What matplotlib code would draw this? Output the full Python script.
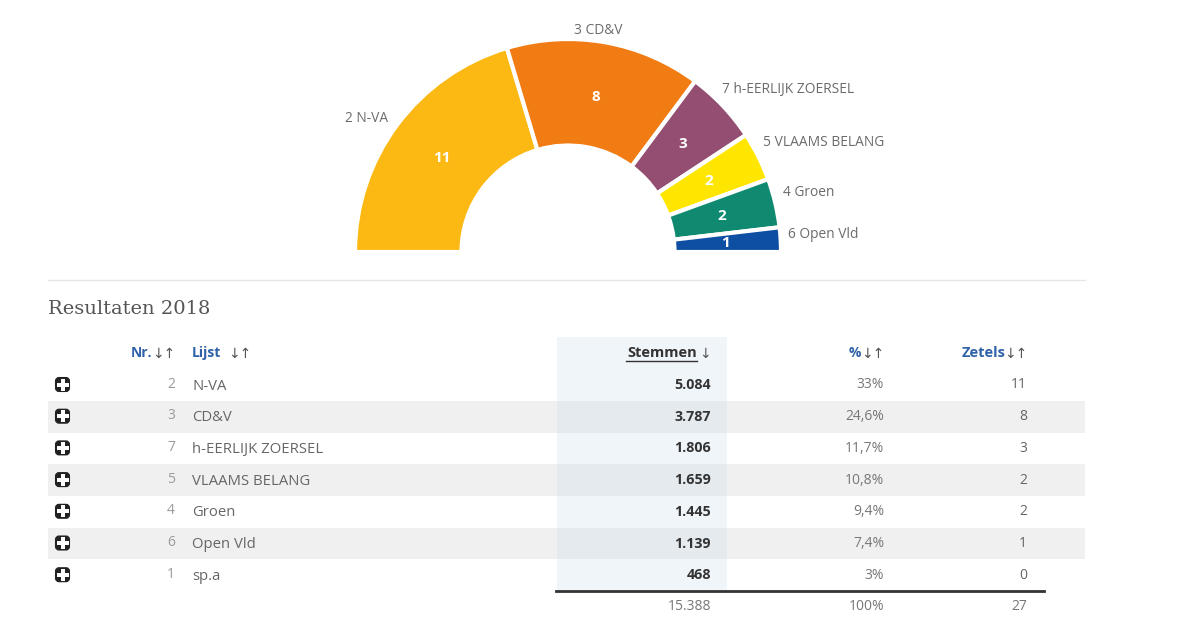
import matplotlib
matplotlib.use('Agg')
import matplotlib.pyplot as plt
from matplotlib.patches import FancyBboxPatch, Rectangle

plt.rcParams['font.family'] = ['Open Sans', 'DejaVu Sans']

# data
nrs = ['2', '3', '7', '5', '4', '6', '1']
lists = ['N-VA', 'CD&V', 'h-EERLIJK ZOERSEL', 'VLAAMS BELANG', 'Groen', 'Open Vld', 'sp.a']
votes = ['5.084', '3.787', '1.806', '1.659', '1.445', '1.139', '468']
percents = ['33%', '24,6%', '11,7%', '10,8%', '9,4%', '7,4%', '3%']
seats = [11, 8, 3, 2, 2, 1, 0]
totals = ['15.388', '100%', '27']
colors = ['#fdb913', '#f27c14', '#934e72', '#ffe600', '#0f8a70', '#0f4fa3']

W, H = 1200, 630
fig = plt.figure(figsize=(12, 6.3), dpi=100, facecolor='white')

# page layer in pixel coordinates
ax = fig.add_axes([0, 0, 1, 1])
ax.set_xlim(0, W)
ax.set_ylim(H, 0)
ax.axis('off')

# half donut: the invisible last slice takes the bottom half
cx, cy, r = 568, 252, 213
size = r * 2.5
pie_ax = fig.add_axes([(cx - size / 2) / W, (H - cy - size / 2) / H, size / W, size / H])
seated = [s for s in seats if s > 0]
wedges, texts = pie_ax.pie(
    seated + [sum(seated)],
    labels=[str(s) for s in seated] + [''],
    colors=colors + ['none'],
    startangle=180,
    counterclock=False,
    labeldistance=0.74,
    wedgeprops={'width': 0.5, 'edgecolor': 'white', 'linewidth': 3},
)
wedges[-1].set_edgecolor('none')
for t in texts:
    t.set_ha('center')
    t.set_va('center')
    t.set_color('white')
    t.set_fontsize(11)
    t.set_fontweight('bold')

# slice captions
label_pos = [(388, 118, 'right'), (598, 30, 'center'), (722, 90, 'left'),
             (763, 143, 'left'), (783, 192, 'left'), (788, 234, 'left')]
for (x, y, ha), nr, name in zip(label_pos, nrs, lists):
    ax.text(x, y, nr + ' ' + name, ha=ha, va='center', fontsize=9.9, color='#6b6b6b')

ax.plot([48, 1085], [279.5, 279.5], color='#e6e6e6', lw=1)
ax.text(48, 309, 'Resultaten 2018', ha='left', va='center', fontsize=14,
        family='DejaVu Serif', color='#555555')

# table
row_h = 31.7
first_y = 385
ax.add_patch(Rectangle((557, 337), 170, 253, facecolor='#f0f5fa', edgecolor='none', zorder=1))
for i in range(len(nrs)):
    y = first_y + i * row_h
    if i % 2 == 1:
        ax.add_patch(Rectangle((48, y - row_h / 2), 1037, row_h, facecolor='#f0f0f0',
                               edgecolor='none', zorder=1))
        ax.add_patch(Rectangle((557, y - row_h / 2), 170, row_h, facecolor='#e5eaef',
                               edgecolor='none', zorder=1.5))
    ax.add_patch(FancyBboxPatch((56, y - 7), 13, 13, boxstyle='round,pad=0,rounding_size=3',
                                facecolor='#222222', edgecolor='#222222', lw=1.5, zorder=2))
    ax.plot([62.5], [y - 0.5], marker='P', color='white', ms=8, mew=0, zorder=3)
    ax.text(175, y - 1, nrs[i], ha='right', va='center', fontsize=10, color='#9a9a9a', zorder=3)
    ax.text(192, y + 1, lists[i], ha='left', va='center', fontsize=10.7, color='#666666', zorder=3)
    ax.text(711, y, votes[i], ha='right', va='center', fontsize=10.3, fontweight='bold',
            color='#333333', zorder=3)
    ax.text(884, y, percents[i], ha='right', va='center', fontsize=10, color='#777777', zorder=3)
    ax.text(1027, y, str(seats[i]), ha='right', va='center', fontsize=10, color='#666666', zorder=3)

# header
blue = '#2f62a8'
ax.text(152, 353, 'Nr.', ha='right', va='center', fontsize=10, fontweight='bold', color=blue, zorder=3)
ax.text(175, 354, '↓↑', ha='right', va='center', fontsize=10, color='#555555', zorder=3)
ax.text(192, 353, 'Lijst', ha='left', va='center', fontsize=10, fontweight='bold', color=blue, zorder=3)
ax.text(228, 354, '↓↑', ha='left', va='center', fontsize=10, color='#555555', zorder=3)
ax.text(697, 353, 'Stemmen', ha='right', va='center', fontsize=10.5, fontweight='bold', color='#333333', zorder=3)
ax.plot([626, 697], [361, 361], color='#333333', lw=1, zorder=3)
ax.text(711, 354, '↓', ha='right', va='center', fontsize=10, color='#555555', zorder=3)
ax.text(861, 353, '%', ha='right', va='center', fontsize=10, fontweight='bold', color=blue, zorder=3)
ax.text(884, 354, '↓↑', ha='right', va='center', fontsize=10, color='#555555', zorder=3)
ax.text(1005, 353, 'Zetels', ha='right', va='center', fontsize=10.5, fontweight='bold', color=blue, zorder=3)
ax.text(1027, 354, '↓↑', ha='right', va='center', fontsize=10, color='#555555', zorder=3)

# totals
ax.plot([556, 1044], [590.5, 590.5], color='#333333', lw=2, zorder=3)
for x, t in zip([711, 884, 1027], totals):
    ax.text(x, 607, t, ha='right', va='center', fontsize=10, color='#777777', zorder=3)

fig.savefig('out.png', dpi=100)
